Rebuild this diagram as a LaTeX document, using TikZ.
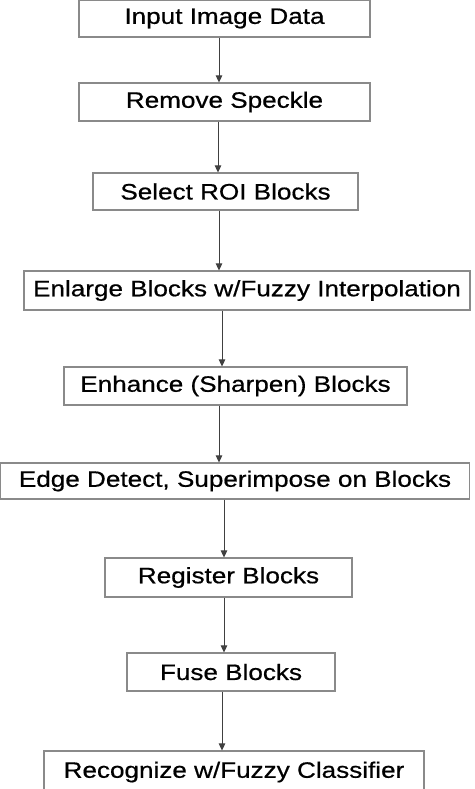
\documentclass[tikz,border=0pt]{standalone}
\usepackage{fontspec}
\newfontfamily\labfont[FakeStretch=1.17,FakeBold=0.6]{Liberation Sans}
\usetikzlibrary{arrows.meta}
\definecolor{boxgray}{HTML}{8A8A8A}
\definecolor{arrgray}{HTML}{404040}
\begin{document}
\begin{tikzpicture}[x=1pt,y=-1pt,
  stepbox/.style={draw=boxgray, line width=1.1pt, rectangle, inner sep=0pt,
    font=\labfont\fontsize{22.3}{24}\selectfont, text=black},
  flow/.style={draw=arrgray, line width=0.8pt, -{Triangle[width=6.5pt,length=7pt]}}]
\useasboundingbox (0,0) rectangle (474,789);
\node[stepbox, minimum width=291pt, minimum height=37pt] (n1) at (224.5,18.5) {Input Image Data};
\node[stepbox, minimum width=291pt, minimum height=38pt] (n2) at (224.5,102) {Remove Speckle};
\node[stepbox, minimum width=265pt, minimum height=37pt] (n3) at (225.5,191.5) {Select ROI Blocks};
\node[stepbox, minimum width=446pt, minimum height=39pt] (n4) at (247,290.5) {Enlarge Blocks w/Fuzzy Interpolation};
\node[stepbox, minimum width=343pt, minimum height=38pt] (n5) at (235.5,386) {Enhance (Sharpen) Blocks};
\node[stepbox, minimum width=469pt, minimum height=36pt] (n6) at (235,481) {Edge Detect, Superimpose on Blocks};
\node[stepbox, minimum width=247pt, minimum height=39pt] (n7) at (228.5,577.5) {Register Blocks};
\node[stepbox, minimum width=208pt, minimum height=38pt] (n8) at (231,672) {Fuse Blocks};
\node[stepbox, minimum width=380pt, minimum height=42pt] (n9) at (234,772) {Recognize w/Fuzzy Classifier};
\coordinate (c1) at (219,0);
\coordinate (c2) at (218,0);
\coordinate (c3) at (219,0);
\coordinate (c4) at (222,0);
\coordinate (c5) at (219,0);
\coordinate (c6) at (224,0);
\coordinate (c7) at (224,0);
\coordinate (c8) at (222,0);
\draw[flow] (n1.south -| c1) -- (n2.north -| c1);
\draw[flow] (n2.south -| c2) -- (n3.north -| c2);
\draw[flow] (n3.south -| c3) -- (n4.north -| c3);
\draw[flow] (n4.south -| c4) -- (n5.north -| c4);
\draw[flow] (n5.south -| c5) -- (n6.north -| c5);
\draw[flow] (n6.south -| c6) -- (n7.north -| c6);
\draw[flow] (n7.south -| c7) -- (n8.north -| c7);
\draw[flow] (n8.south -| c8) -- (n9.north -| c8);
\end{tikzpicture}
\end{document}
